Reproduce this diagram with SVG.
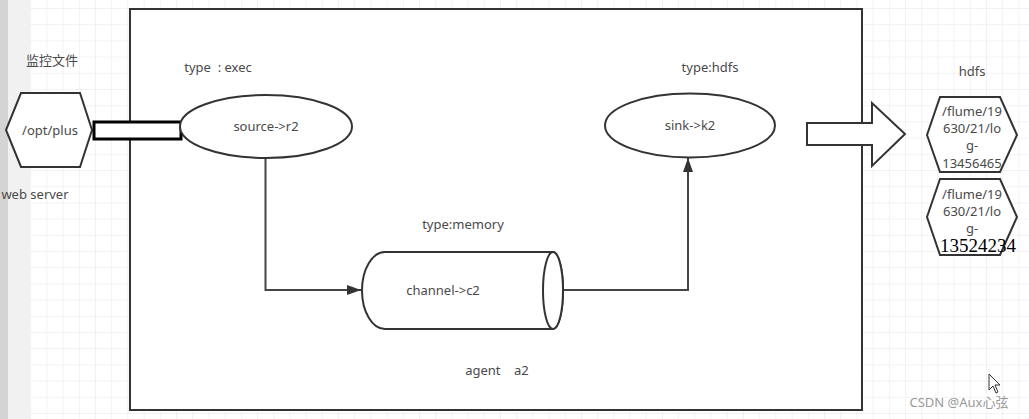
<svg xmlns="http://www.w3.org/2000/svg" width="1029" height="419" viewBox="0 0 1029 419">
<defs>
<pattern id="grid" x="14" y="8" width="16.2" height="16.2" patternUnits="userSpaceOnUse">
<path d="M0 0H16.2M0 0V16.2" fill="none" stroke="#e6e6e6" stroke-width="1"/>
</pattern>
<marker id="arr" viewBox="0 0 14 10" refX="14" refY="5" markerWidth="14" markerHeight="10" markerUnits="userSpaceOnUse" orient="auto">
<path d="M0 0L14 5L0 10Z" fill="#333"/>
</marker>
<style>
.t{font-family:"Noto Sans","Noto Sans CJK SC",sans-serif;font-size:13px;fill:#4a4a4a;text-anchor:middle}
.s{fill:#fff;stroke:#333;stroke-width:2}
.c{fill:none;stroke:#444;stroke-width:2}
</style>
</defs>
<rect width="1029" height="419" fill="#fff"/>
<rect x="30" y="0" width="999" height="419" fill="url(#grid)"/>
<rect x="0" y="0" width="8" height="419" fill="#d4d4d4"/>
<rect x="8" y="0" width="22" height="419" fill="#f1f1f1"/>
<g id="agent">
<rect x="130" y="9" width="732" height="401" class="s"/>
<text x="497" y="375" class="t" xml:space="preserve">agent    a2</text>
</g>
<g id="connectors">
<path d="M265.5 158V290H361" class="c" marker-end="url(#arr)"/>
<path d="M563 290H688V158" class="c" marker-end="url(#arr)"/>
</g>
<g id="webserver">
<text x="52" y="65" class="t">监控文件</text>
<polygon points="21,93 80,93 92,130 80,167 21,167 6,130" class="s"/>
<text x="50" y="135" class="t">/opt/plus</text>
<text x="35" y="199" class="t">web server</text>
</g>
<g id="pipe">
<rect x="94" y="122" width="87" height="17" fill="#fff" stroke="#000" stroke-width="3"/>
</g>
<g id="source">
<text x="218" y="72" class="t" xml:space="preserve">type  : exec</text>
<ellipse cx="266" cy="126.5" rx="86" ry="31.5" class="s"/>
<text x="266" y="131" class="t">source-&gt;r2</text>
</g>
<g id="channel">
<text x="463" y="229" class="t">type:memory</text>
<path d="M385 252H553A10 38.5 0 0 1 553 329H385A23 38.5 0 0 1 385 252Z" class="s"/>
<ellipse cx="553" cy="290.5" rx="10" ry="38.5" class="s"/>
<text x="443" y="295" class="t">channel-&gt;c2</text>
</g>
<g id="sink">
<text x="710" y="72" class="t">type:hdfs</text>
<ellipse cx="690" cy="125.5" rx="85" ry="32" class="s"/>
<text x="690" y="130" class="t">sink-&gt;k2</text>
</g>
<g id="bigarrow">
<polygon points="807,123 872,123 872,103 905,134 872,166 872,145 807,145" class="s"/>
</g>
<g id="hdfs">
<text x="972" y="76" class="t">hdfs</text>
<polygon points="940,97 1000,97 1017,135 1000,172 940,172 927,135" class="s"/>
<text x="972" y="116" class="t">/flume/19</text>
<text x="972" y="133" class="t">630/21/lo</text>
<text x="972" y="150" class="t">g-</text>
<text x="972" y="168" class="t">13456465</text>
<polygon points="940,179 1000,179 1017,217 1000,255 940,255 927,217" class="s"/>
<text x="972" y="199" class="t">/flume/19</text>
<text x="972" y="216" class="t">630/21/lo</text>
<text x="972" y="233" class="t">g-</text>
<text x="978" y="252" font-family="Liberation Serif,serif" font-size="19" fill="#000" text-anchor="middle">13524234</text>
</g>
<path d="M989 374V390L993 386L996 393L998 392L995 385L1000 385Z" fill="#fff" stroke="#333" stroke-width="1"/>
<text x="959" y="407" class="t" style="fill:#999;font-size:13px">CSDN @Aux心弦</text>
</svg>
